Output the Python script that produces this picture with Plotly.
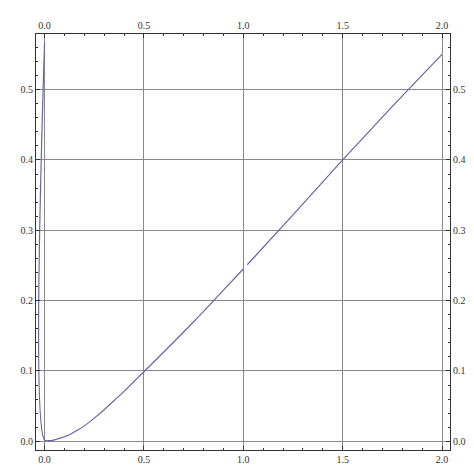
import plotly.graph_objects as go

x_vals = [0.0, 0.0, 0.02, 0.04, 0.06, 0.08, 0.1, 0.13, 0.16, 0.2, 0.25, 0.3, 0.35, 0.4, 0.45, 0.5, 0.6, 0.75, 0.9, 1.0, None, 1.02, 1.25, 1.5, 1.75, 2.0]
y_vals = [0.567, 0.002, 0.001, 0.0015, 0.003, 0.0045, 0.0065, 0.010, 0.015, 0.022, 0.033, 0.045, 0.058, 0.071, 0.085, 0.099, 0.127, 0.170, 0.215, 0.245, None, 0.251, 0.322, 0.400, 0.476, 0.550]
x_ticks = [0.0, 0.5, 1.0, 1.5, 2.0]
y_ticks = [0.0, 0.1, 0.2, 0.3, 0.4, 0.5]

fig = go.Figure()
fig.add_trace(go.Scatter(x=x_vals, y=y_vals, mode="lines", line_shape="spline",
                         line=dict(color="#6666aa", width=1.2), connectgaps=False))
fig.add_trace(go.Scatter(x=[x_ticks[0]], y=[y_ticks[0]], xaxis="x2", yaxis="y2",
                         mode="markers", marker=dict(opacity=0), hoverinfo="skip"))

font = dict(family="Liberation Serif, DejaVu Serif, serif", size=10, color="#333")
xr = [-0.043, 2.04]
yr = [-0.0123, 0.579]
common = dict(showline=True, linecolor="#333", linewidth=1, mirror=False,
              ticks="inside", ticklen=4, tickcolor="#333", tickfont=font,
              zeroline=False, minor=dict(ticks="inside", ticklen=2, tickcolor="#333", showgrid=False))
fig.update_layout(
    width=474, height=469, margin=dict(l=17, r=32, t=19, b=18),
    paper_bgcolor="white", plot_bgcolor="white", showlegend=False,
    xaxis=dict(range=xr, tickvals=x_ticks, ticktext=[f"{v:.1f}" for v in x_ticks],
               showgrid=True, gridcolor="#888", gridwidth=1, **common),
    xaxis2=dict(range=xr, overlaying="x", side="top", tickvals=x_ticks,
                ticktext=[f"{v:.1f}" for v in x_ticks], showgrid=False, **common),
    yaxis=dict(range=yr, tickvals=y_ticks, ticktext=[f"{v:.1f}" for v in y_ticks],
               showgrid=True, gridcolor="#888", gridwidth=1, **common),
    yaxis2=dict(range=yr, overlaying="y", side="right", tickvals=y_ticks,
                ticktext=[f"{v:.1f}" for v in y_ticks], showgrid=False, **common),
)
fig.update_xaxes(minor_dtick=0.1)
fig.update_yaxes(minor_dtick=0.02)
fig.write_html("out.html")
